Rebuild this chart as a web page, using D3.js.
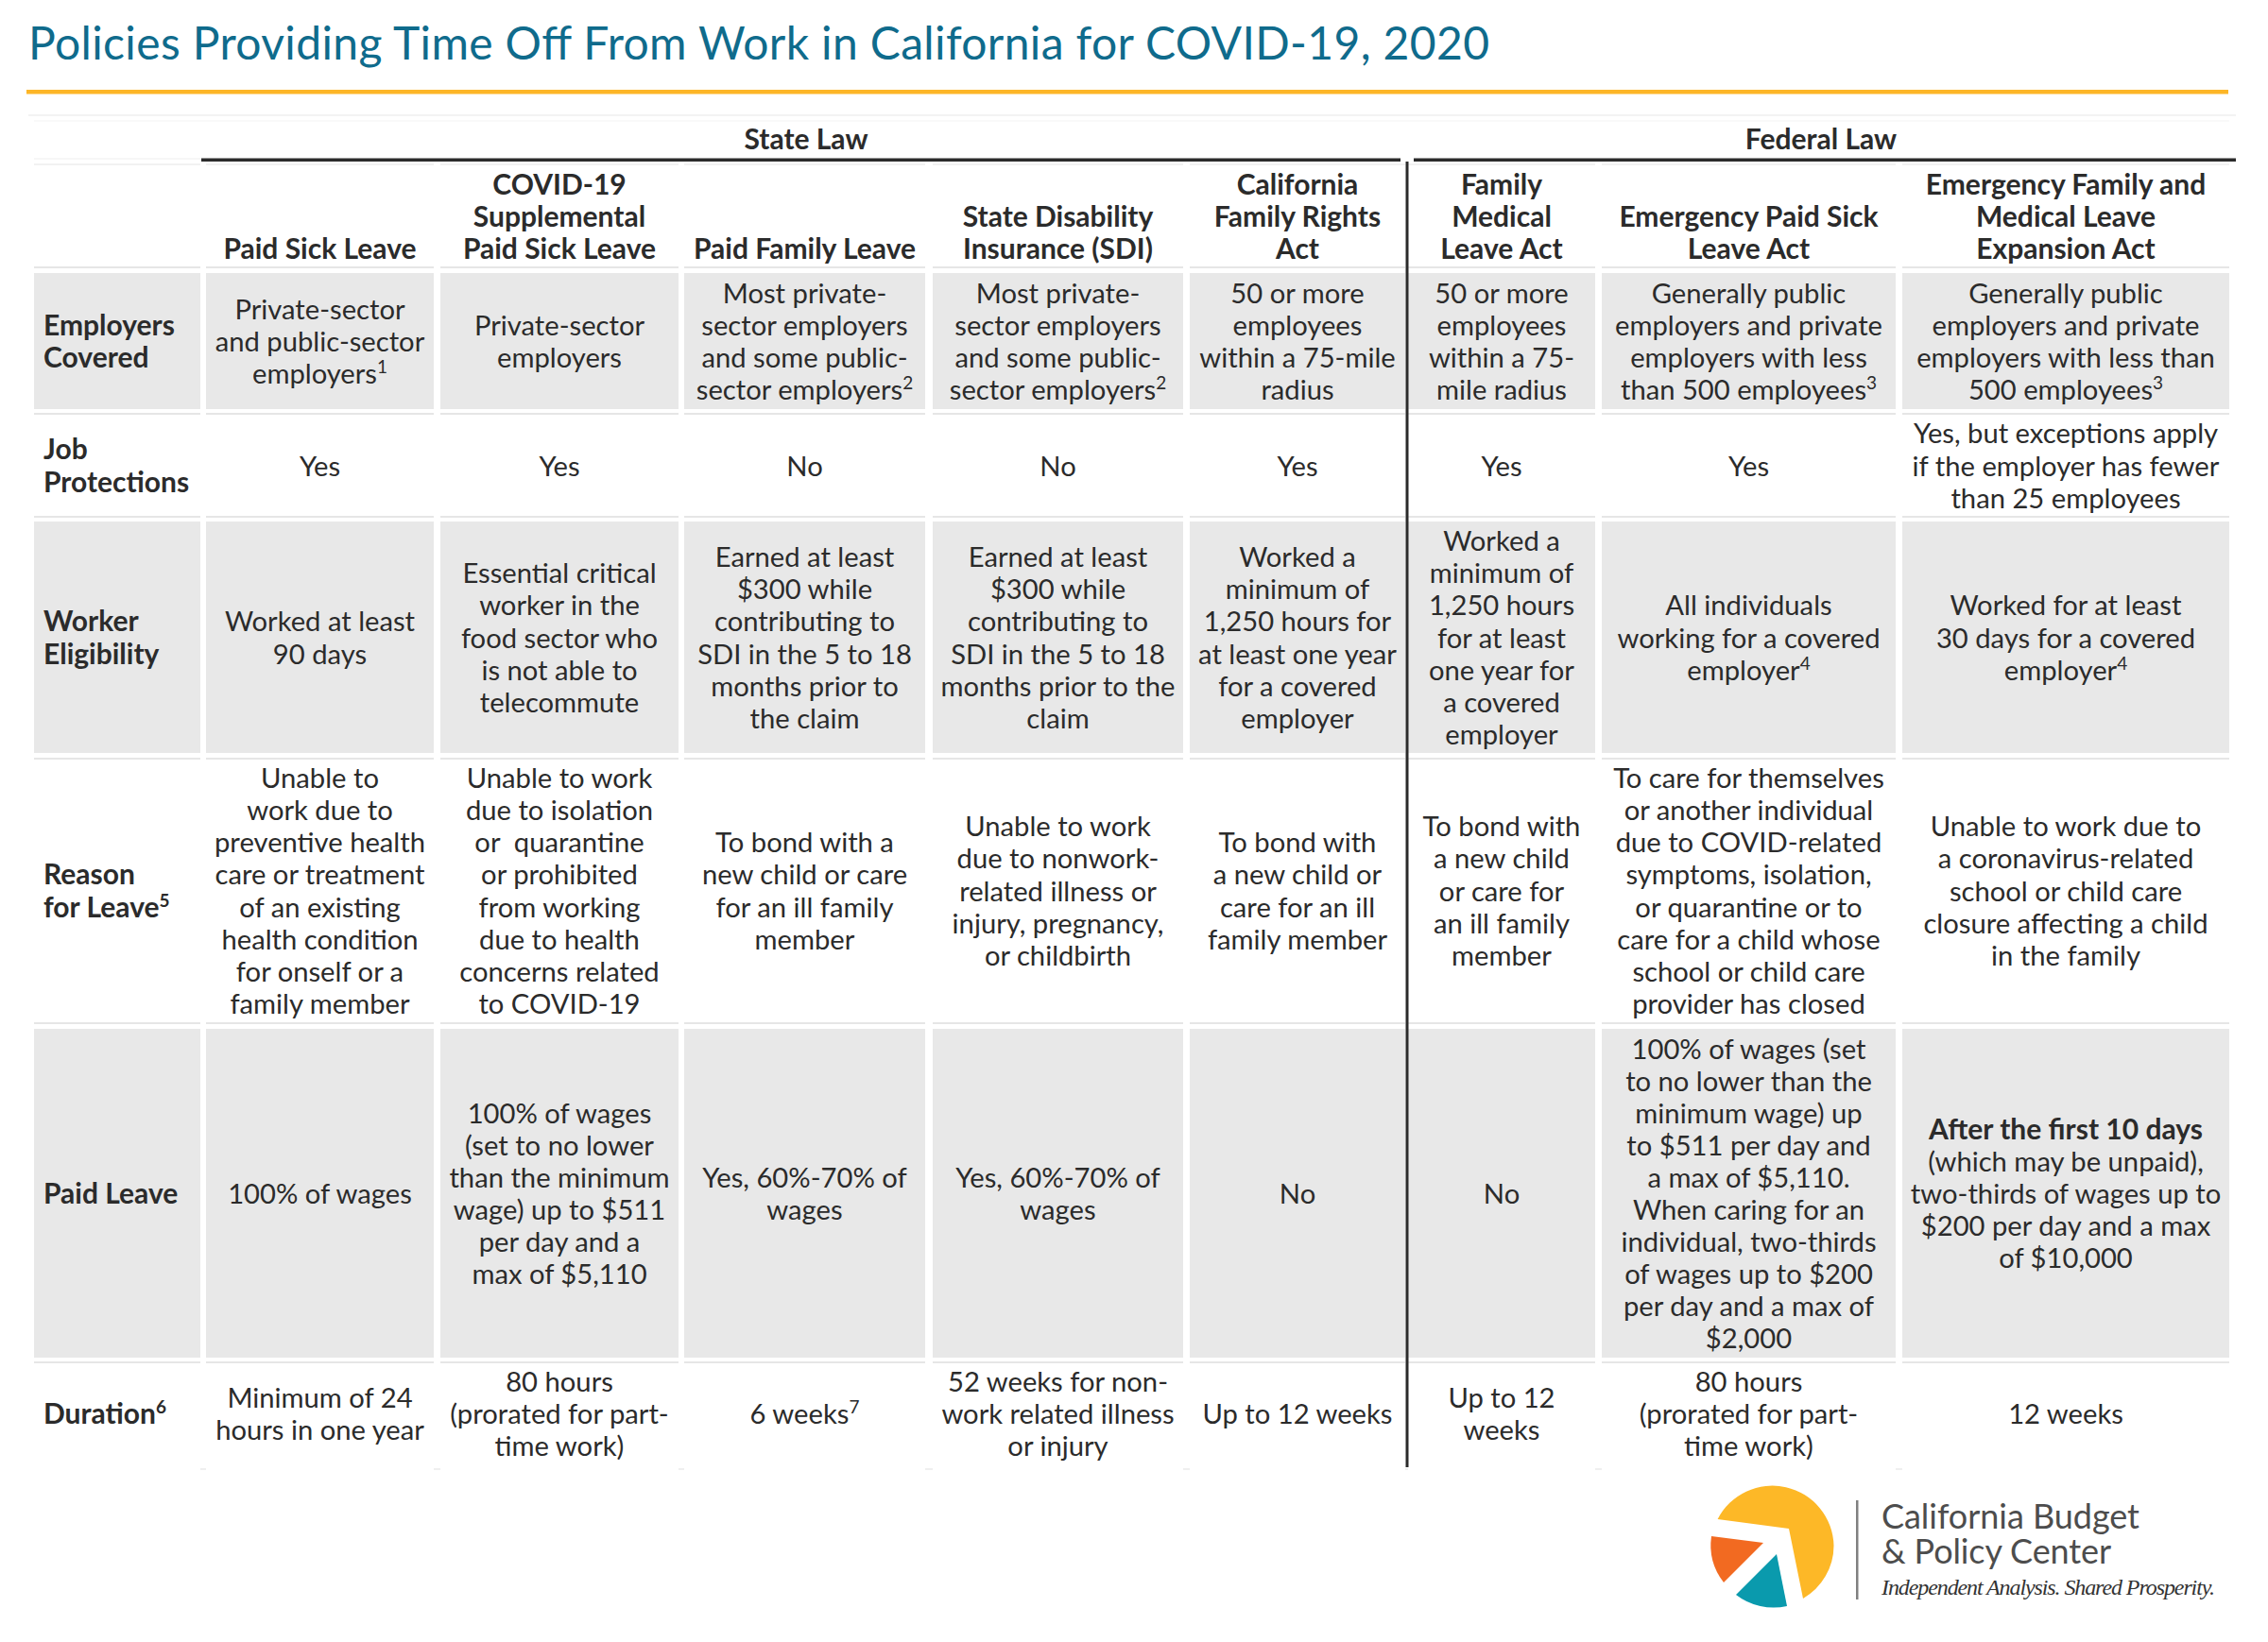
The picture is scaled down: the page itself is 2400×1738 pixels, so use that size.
<!DOCTYPE html>
<html><head><meta charset="utf-8">
<script src="https://cdnjs.cloudflare.com/ajax/libs/d3/7.8.5/d3.min.js"></script>
<style>html,body{margin:0;padding:0;background:#fff}svg{display:block}text{font-family:Lato,sans-serif;white-space:pre}</style>
</head><body><svg id="c" width="2400" height="1738"></svg>
<script>
const title = "Policies Providing Time Off From Work in California for COVID-19, 2020";
const groups = ["State Law","Federal Law"];
const policies = [
 ["Paid Sick Leave"],
 ["COVID-19","Supplemental","Paid Sick Leave"],
 ["Paid Family Leave"],
 ["State Disability","Insurance (SDI)"],
 ["California","Family Rights","Act"],
 ["Family","Medical","Leave Act"],
 ["Emergency Paid Sick","Leave Act"],
 ["Emergency Family and","Medical Leave","Expansion Act"]
];
const rowLabels = [
 ["Employers","Covered"],["Job","Protections"],["Worker","Eligibility"],
 ["Reason","for Leave^5"],["Paid Leave"],["Duration^6"]
];
const employersCovered = [
 ["Private-sector","and public-sector","employers^1"],
 ["Private-sector","employers"],
 ["Most private-","sector employers","and some public-","sector employers^2"],
 ["Most private-","sector employers","and some public-","sector employers^2"],
 ["50 or more","employees","within a 75-mile","radius"],
 ["50 or more","employees","within a 75-","mile radius"],
 ["Generally public","employers and private","employers with less","than 500 employees^3"],
 ["Generally public","employers and private","employers with less than","500 employees^3"]
];
const jobProtections = [
 ["Yes"],["Yes"],["No"],["No"],["Yes"],["Yes"],["Yes"],
 ["Yes, but exceptions apply","if the employer has fewer","than 25 employees"]
];
const workerEligibility = [
 ["Worked at least","90 days"],
 ["Essential critical","worker in the","food sector who","is not able to","telecommute"],
 ["Earned at least","$300 while","contributing to","SDI in the 5 to 18","months prior to","the claim"],
 ["Earned at least","$300 while","contributing to","SDI in the 5 to 18","months prior to the","claim"],
 ["Worked a","minimum of","1,250 hours for","at least one year","for a covered","employer"],
 ["Worked a","minimum of","1,250 hours","for at least","one year for","a covered","employer"],
 ["All individuals","working for a covered","employer^4"],
 ["Worked for at least","30 days for a covered","employer^4"]
];
const reasonForLeave = [
 ["Unable to","work due to","preventive health","care or treatment","of an existing","health condition","for onself or a","family member"],
 ["Unable to work","due to isolation","or  quarantine","or prohibited","from working","due to health","concerns related","to COVID-19"],
 ["To bond with a","new child or care","for an ill family","member"],
 ["Unable to work","due to nonwork-","related illness or","injury, pregnancy,","or childbirth"],
 ["To bond with","a new child or","care for an ill","family member"],
 ["To bond with","a new child","or care for","an ill family","member"],
 ["To care for themselves","or another individual","due to COVID-related","symptoms, isolation,","or quarantine or to","care for a child whose","school or child care","provider has closed"],
 ["Unable to work due to","a coronavirus-related","school or child care","closure affecting a child","in the family"]
];
const paidLeave = [
 ["100% of wages"],
 ["100% of wages","(set to no lower","than the minimum","wage) up to $511","per day and a","max of $5,110"],
 ["Yes, 60%-70% of","wages"],
 ["Yes, 60%-70% of","wages"],
 ["No"],["No"],
 ["100% of wages (set","to no lower than the","minimum wage) up","to $511 per day and","a max of $5,110.","When caring for an","individual, two-thirds","of wages up to $200","per day and a max of","$2,000"],
 ["*After the first 10 days","(which may be unpaid),","two-thirds of wages up to","$200 per day and a max","of $10,000"]
];
const duration = [
 ["Minimum of 24","hours in one year"],
 ["80 hours","(prorated for part-","time work)"],
 ["6 weeks^7"],
 ["52 weeks for non-","work related illness","or injury"],
 ["Up to 12 weeks"],
 ["Up to 12","weeks"],
 ["80 hours","(prorated for part-","time work)"],
 ["12 weeks"]
];
const tableRows = [employersCovered,jobProtections,workerEligibility,reasonForLeave,paidLeave,duration];

// layout (separate from the content above)
const colIdx = d3.range(9);
const colLeft  = d3.scaleOrdinal(colIdx,[36,218,466,724,987,1259,1490,1695,2013]);
const colRight = d3.scaleOrdinal(colIdx,[212,459,718,979,1252,1487,1688,2006,2359]);
const rowIdx = d3.range(6);
const rowTop = d3.scaleOrdinal(rowIdx,[289,443,552,808,1089,1447]);
const rowBot = d3.scaleOrdinal(rowIdx,[433,542,797,1077,1437,1545]);
const ruleY = [174,283,438,547,803,1083,1442];
const LH=34.1, BODY=29.2, BOLD=30, INK="#2b2b2b";

const svg=d3.select("#c");
svg.append("text").attr("x",30).attr("y",63).attr("font-size",48).attr("fill","#0f6b8c").attr("textLength",1546).text(title);
svg.append("rect").attr("x",28).attr("y",95).attr("width",2330).attr("height",4.5).attr("fill","#fdb627");

// faint rules
svg.append("line").attr("x1",30).attr("x2",2366).attr("y1",122).attr("y2",122).attr("stroke","#f3f3f3").attr("stroke-width",2);
svg.append("line").attr("x1",36).attr("x2",2359).attr("y1",128).attr("y2",128).attr("stroke","#f9f9f9").attr("stroke-width",2);
svg.append("line").attr("x1",36).attr("x2",212).attr("y1",168).attr("y2",168).attr("stroke","#f7f7f7").attr("stroke-width",2);
ruleY.forEach((y,ri)=>{
  colIdx.forEach(c=>{
    svg.append("line").attr("x1",colLeft(c)).attr("x2",colRight(c)).attr("y1",y).attr("y2",y)
       .attr("stroke",ri===0?"#f2f2f2":"#e6e6e6").attr("stroke-width",2);
  });
});
// faint ticks in the gutters at the foot of the table
colIdx.slice(0,8).forEach(c=>{
  svg.append("line").attr("x1",colRight(c)).attr("x2",colLeft(c+1)).attr("y1",1555).attr("y2",1555)
     .attr("stroke","#efefef").attr("stroke-width",2);
});

// grey bands
rowIdx.filter(r=>r%2===0).forEach(r=>{
  svg.append("g").selectAll("rect").data(colIdx).join("rect")
   .attr("x",c=>colLeft(c)).attr("width",c=>colRight(c)-colLeft(c))
   .attr("y",rowTop(r)).attr("height",rowBot(r)-rowTop(r)).attr("fill","#e8e8e8");
});

function line(g,str,x,y,anchor,weight){
  let bold = weight;
  if(str[0]==="*"){bold=700;str=str.slice(1);}
  const t=g.append("text").attr("x",x).attr("y",y).attr("text-anchor",anchor)
    .attr("font-size",bold===700?BOLD:BODY).attr("font-weight",bold).attr("fill",INK);
  const parts=str.split("^");
  t.append("tspan").text(parts[0]);
  if(parts[1]) t.append("tspan").attr("dy",-11).attr("font-size",19).text(parts[1]);
}
const g=svg.append("g");
// header rules and group titles
[[213,1482,853],[1496,2366,1927]].forEach((d,i)=>{
  svg.append("rect").attr("x",d[0]).attr("y",167.5).attr("width",d[1]-d[0]).attr("height",3.5).attr("fill","#2b2b2b");
  svg.append("text").attr("x",d[2]).attr("y",158).attr("text-anchor","middle").attr("font-size",BOLD).attr("font-weight",700).attr("fill",INK).text(groups[i]);
});
// column heads
policies.forEach((ls,i)=>{
  const c=i+1, cx=(colLeft(c)+colRight(c))/2;
  ls.forEach((s,k)=>line(g,s,cx,274-(ls.length-1-k)*LH,"middle",700));
});
// rows
rowIdx.forEach(r=>{
  const mid=(rowTop(r)+rowBot(r))/2;
  rowLabels[r].forEach((s,k)=>line(g,s,46,mid+11+(k-(rowLabels[r].length-1)/2)*LH,"start",700));
  tableRows[r].forEach((ls,i)=>{
    const c=i+1,cx=(colLeft(c)+colRight(c))/2;
    ls.forEach((s,k)=>line(g,s,cx,mid+11+(k-(ls.length-1)/2)*LH,"middle",400));
  });
});
// divider
svg.append("rect").attr("x",1487.5).attr("y",171).attr("width",3).attr("height",1382).attr("fill","#2b2b2b");

// logo
const R=65;
const logo=svg.append("g");
logo.append("path").attr("d",`M1817.6,1608 L1893,1618 L1908,1692 A${R},${R} 0 0 0 1940.5,1636 A${R},${R} 0 0 0 1817.6,1608Z`).attr("fill","#fdb827");
logo.append("path").attr("d",`M1811,1626 L1866,1633 L1824,1675 A${R},${R} 0 0 1 1811,1626Z`).attr("fill","#f26a21");
logo.append("path").attr("d",`M1880,1645 L1891,1700 A${R},${R} 0 0 1 1837,1688Z`).attr("fill","#0a9aad");
logo.append("rect").attr("x",1964).attr("y",1588).attr("width",2.5).attr("height",105).attr("fill","#808080");
logo.append("text").attr("x",1991).attr("y",1618).attr("font-size",36).attr("fill","#4d4d4d").attr("textLength",273).text("California Budget");
logo.append("text").attr("x",1991).attr("y",1655).attr("font-size",36).attr("fill","#4d4d4d").attr("textLength",243).text("& Policy Center");
logo.append("text").attr("x",1991).attr("y",1688).attr("font-size",24).attr("font-style","italic").attr("fill","#333").style("font-family","'Liberation Serif',serif").attr("textLength",353).text("Independent Analysis. Shared Prosperity.");
</script></body></html>
